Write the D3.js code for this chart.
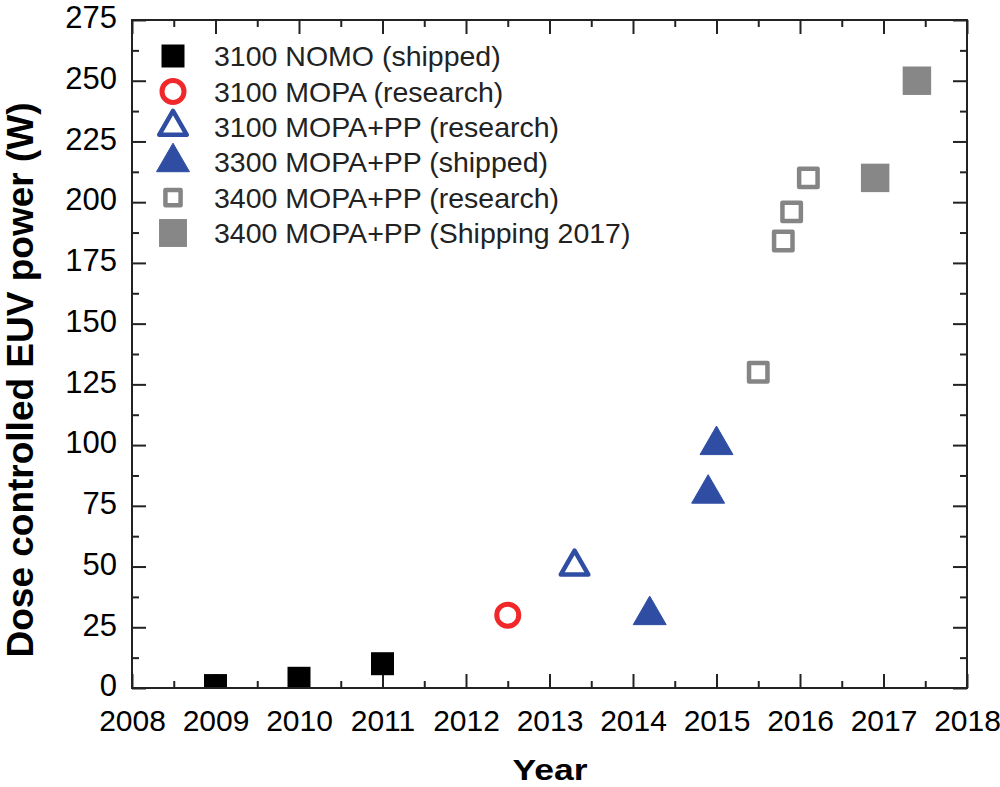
<!DOCTYPE html>
<html lang="en">
<head>
    <meta charset="UTF-8">
    <title>Dose controlled EUV power</title>
    <script src="https://d3js.org/d3.v7.min.js"></script>
    <style>
        body {
            margin: 0;
            padding: 0;
            background: #fff;
            font-family: "Liberation Sans", Arial, sans-serif;
        }
        .tick line { stroke: #222; stroke-width: 2px; }
        .tick text { font-family: "Liberation Sans", Arial, sans-serif; fill: #000; }
    </style>
</head>
<body>
    <div id="chart"></div>
    <script>
        // series names as shown in the legend
        const seriesNames = [
            "3100 NOMO (shipped)",
            "3100 MOPA (research)",
            "3100 MOPA+PP (research)",
            "3300 MOPA+PP (shipped)",
            "3400 MOPA+PP (research)",
            "3400 MOPA+PP (Shipping 2017)"
        ];

        // values (year, watts)
        const nomoYears = [2009, 2010, 2011];
        const nomoPower = [1, 4, 10];
        const mopaYears = [2012.5];
        const mopaPower = [30];
        const mopaPPResYears = [2013.3];
        const mopaPPResPower = [50];
        const ship3300Years = [2014.2, 2014.9, 2015.0];
        const ship3300Power = [30, 80, 100];
        const res3400Years = [2015.5, 2015.8, 2015.9, 2016.1];
        const res3400Power = [130, 184, 196, 210];
        const ship3400Years = [2016.9, 2017.4];
        const ship3400Power = [210, 250];

        const xTicks = [2008, 2009, 2010, 2011, 2012, 2013, 2014, 2015, 2016, 2017, 2018];
        const yTicks = [0, 25, 50, 75, 100, 125, 150, 175, 200, 225, 250, 275];

        // marker look per series
        const styles = [
            {type: d3.symbolSquare, size: 529, fill: "#000", stroke: "none", sw: 0, legendSize: 529},
            {type: d3.symbolCircle, size: 380, fill: "#fff", stroke: "#f0282a", sw: 5, legendSize: 380},
            {type: d3.symbolTriangle, size: 330, fill: "#fff", stroke: "#2f4ea3", sw: 4.5, legendSize: 330},
            {type: d3.symbolTriangle, size: 470, fill: "#2f4ea3", stroke: "#2f4ea3", sw: 1, legendSize: 470},
            {type: d3.symbolSquare, size: 340, fill: "#fff", stroke: "#858585", sw: 4.5, legendSize: 230},
            {type: d3.symbolSquare, size: 810, fill: "#878787", stroke: "none", sw: 0, legendSize: 780}
        ];

        const series = [
            [nomoYears, nomoPower],
            [mopaYears, mopaPower],
            [mopaPPResYears, mopaPPResPower],
            [ship3300Years, ship3300Power],
            [res3400Years, res3400Power],
            [ship3400Years, ship3400Power]
        ].map((s, i) => ({
            name: seriesNames[i],
            style: styles[i],
            points: s[0].map((yr, j) => ({year: yr, power: s[1][j]}))
        }));

        const margin = {top: 20, right: 33, bottom: 99, left: 132},
            width = 1000 - margin.left - margin.right,
            height = 787 - margin.top - margin.bottom;

        const svg = d3.select("#chart")
            .append("svg")
            .attr("width", 1000)
            .attr("height", 787);

        const g = svg.append("g")
            .attr("transform", `translate(${margin.left},${margin.top})`);

        const x = d3.scaleLinear().domain([2008, 2018]).range([0, width]);
        const y = d3.scaleLinear().domain([0, 275]).range([height, 0]);

        const halfYears = d3.range(2008.5, 2018, 1);
        const halfPower = d3.range(12.5, 275, 25);

        // bottom axis with labels, major ticks pointing in
        const bottom = g.append("g")
            .attr("transform", `translate(0,${height})`)
            .call(d3.axisBottom(x).tickValues(xTicks).tickFormat(d3.format("d"))
                .tickSize(-14).tickPadding(22));
        bottom.selectAll("text").attr("font-size", 30);
        g.append("g")
            .attr("transform", `translate(0,${height})`)
            .call(d3.axisBottom(x).tickValues(halfYears).tickFormat("").tickSize(-7));

        // top axis, ticks only
        g.append("g")
            .call(d3.axisTop(x).tickValues(xTicks).tickFormat("").tickSize(-14));
        g.append("g")
            .call(d3.axisTop(x).tickValues(halfYears).tickFormat("").tickSize(-7));

        // left axis with labels
        const left = g.append("g")
            .call(d3.axisLeft(y).tickValues(yTicks).tickSize(-14).tickPadding(15));
        left.selectAll("text").attr("font-size", 31).attr("dy", "0.25em");
        g.append("g")
            .call(d3.axisLeft(y).tickValues(halfPower).tickFormat("").tickSize(-7));

        // right axis, ticks only
        g.append("g")
            .attr("transform", `translate(${width},0)`)
            .call(d3.axisRight(y).tickValues(yTicks).tickFormat("").tickSize(-14));
        g.append("g")
            .attr("transform", `translate(${width},0)`)
            .call(d3.axisRight(y).tickValues(halfPower).tickFormat("").tickSize(-7));

        g.selectAll(".domain").remove();

        // clip markers to the frame
        svg.append("defs").append("clipPath")
            .attr("id", "plot-clip")
            .append("rect")
            .attr("width", width)
            .attr("height", height);

        const marks = g.append("g").attr("clip-path", "url(#plot-clip)");

        series.forEach(s => {
            marks.selectAll(null)
                .data(s.points)
                .enter().append("path")
                .attr("transform", d => `translate(${x(d.year)},${y(d.power)})`)
                .attr("d", d3.symbol().type(s.style.type).size(s.style.size))
                .attr("fill", s.style.fill)
                .attr("stroke", s.style.stroke)
                .attr("stroke-width", s.style.sw)
                .attr("stroke-linejoin", "round");
        });

        // frame
        g.append("rect")
            .attr("width", width)
            .attr("height", height)
            .attr("fill", "none")
            .attr("stroke", "#222")
            .attr("stroke-width", 2);

        // legend
        const legend = g.append("g")
            .attr("transform", "translate(41,36)");
        const rows = legend.selectAll("g")
            .data(series)
            .enter().append("g")
            .attr("transform", (d, i) => `translate(0,${i * 35.4})`);
        rows.append("path")
            .attr("d", d => d3.symbol().type(d.style.type).size(d.style.legendSize)())
            .attr("fill", d => d.style.fill)
            .attr("stroke", d => d.style.stroke)
            .attr("stroke-width", d => d.style.sw)
            .attr("stroke-linejoin", "round");
        rows.append("text")
            .attr("x", 41)
            .attr("dy", "0.36em")
            .attr("font-size", 28.5)
            .attr("fill", "#222")
            .text(d => d.name);

        // axis titles
        svg.append("text")
            .attr("x", 550)
            .attr("y", 780)
            .attr("text-anchor", "middle")
            .attr("font-size", 30)
            .attr("font-weight", "bold")
            .attr("textLength", 75)
            .attr("lengthAdjust", "spacingAndGlyphs")
            .text("Year");

        svg.append("text")
            .attr("transform", "translate(33,380) rotate(-90)")
            .attr("text-anchor", "middle")
            .attr("font-size", 37)
            .attr("font-weight", "bold")
            .text("Dose controlled EUV power (W)");
    </script>
</body>
</html>
